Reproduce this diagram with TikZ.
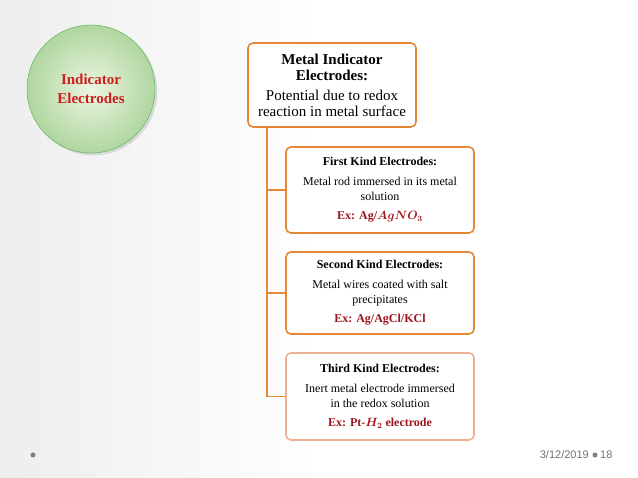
\documentclass[tikz,border=0pt]{standalone}
\usepackage{amsmath}
\usepackage{fontspec}
\setmainfont{Liberation Serif}
\newfontfamily\footfont{Liberation Sans}
\usetikzlibrary{shadows}
\definecolor{orng}{RGB}{228,136,56}
\definecolor{peach}{RGB}{238,176,146}
\definecolor{exred}{RGB}{160,20,30}
\definecolor{circred}{RGB}{205,30,30}
\definecolor{cin}{RGB}{236,246,226}
\definecolor{cout}{RGB}{176,214,160}
\tikzset{
  box/.style={draw=orng,line width=1.6pt,rounded corners=5pt,fill=white,align=center,inner sep=0pt},
  stem/.style={draw=orng,line width=1.6pt},
}
\begin{document}
\begin{tikzpicture}[x=1pt,y=-1pt]
\shade[left color=gray!14,right color=white,middle color=white] (0,0) rectangle (638,478);
\useasboundingbox (0,0) rectangle (638,478);
\node[circle,minimum size=128pt,draw=green!40!gray,inner color=cin,outer color=cout,drop shadow={opacity=0.25},align=center,font=\bfseries\fontsize{15}{19}\selectfont,text=circred] (c) at (91,89) {Indicator\\Electrodes};
\node[box,minimum width=168pt,minimum height=84pt,font=\fontsize{15}{16}\selectfont] (m) at (332,85) {\bfseries Metal Indicator\\\bfseries Electrodes:\\[4pt]\normalfont Potential due to redox\\reaction in metal surface};
\node[box,minimum width=188pt,minimum height=86pt,font=\fontsize{12}{15}\selectfont] (b1) at (380,190) {\textbf{First Kind Electrodes:}\\[5pt]Metal rod immersed in its metal\\solution\\[4pt]\textcolor{exred}{\bfseries Ex: Ag/$\boldsymbol{AgNO_3}$}};
\node[box,minimum width=188pt,minimum height=82pt,font=\fontsize{12}{15}\selectfont] (b2) at (380,293) {\textbf{Second Kind Electrodes:}\\[5pt]Metal wires coated with salt\\precipitates\\[4pt]\textcolor{exred}{\bfseries Ex: Ag/AgCl/KCl}};
\node[box,draw=peach,minimum width=188pt,minimum height=87pt,font=\fontsize{12}{15}\selectfont] (b3) at (380,396.5) {\textbf{Third Kind Electrodes:}\\[5pt]Inert metal electrode immersed\\in the redox solution\\[4pt]\textcolor{exred}{\bfseries Ex: Pt-$\boldsymbol{H_2}$ electrode}};
\coordinate (top) at (267,127);
\draw[stem] (top) -- (top |- b3.west) -- (b3.west);
\draw[stem] (top |- b1.west) -- (b1.west);
\draw[stem] (top |- b2.west) -- (b2.west);
\fill[gray] (33,455) circle (2.5pt);
\node[anchor=east,font=\footfont\fontsize{11}{12}\selectfont,text=gray!90!black,inner sep=0] (d) at (589,455) {3/12/2019};
\fill[gray] (595,455) circle (2.5pt);
\node[anchor=west,font=\footfont\fontsize{11}{12}\selectfont,text=gray!90!black,inner sep=0] (n) at (600,455) {18};
\end{tikzpicture}
\end{document}
